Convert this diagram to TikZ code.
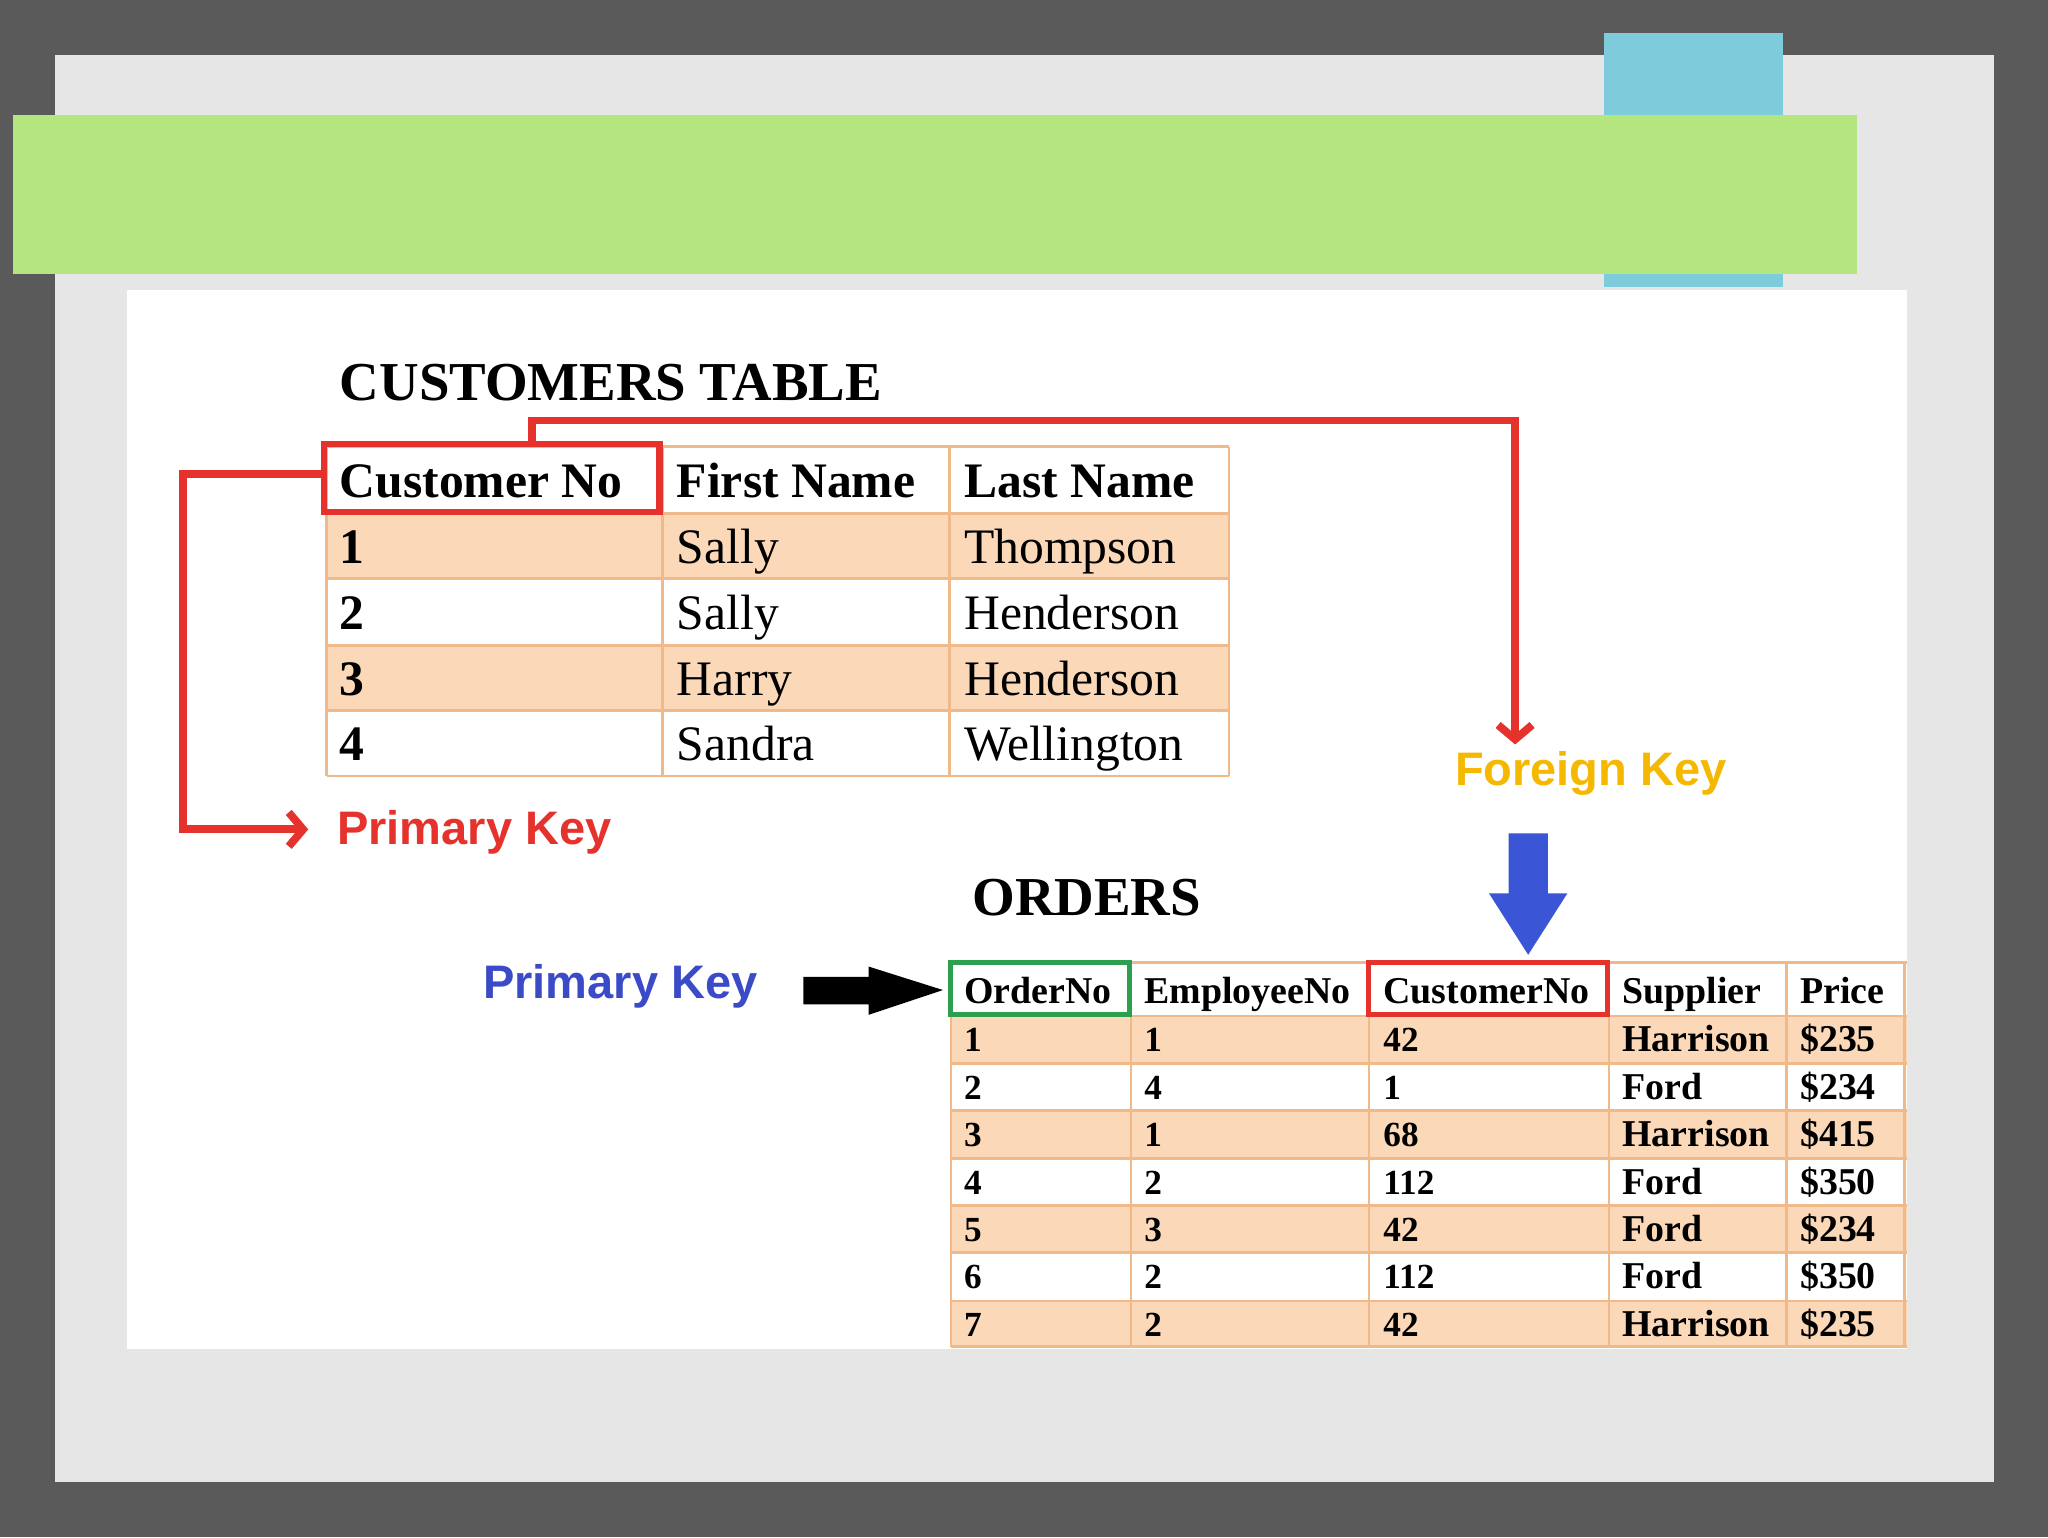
\documentclass[tikz,border=0pt]{standalone}
\usepackage{fontspec}
\setmainfont{Liberation Serif}
\newfontfamily\sansb{Liberation Sans}
\usetikzlibrary{arrows.meta}
\definecolor{bgdark}{HTML}{5A5A5A}
\definecolor{slide}{HTML}{E6E6E6}
\definecolor{tabc}{HTML}{7ECBDC}
\definecolor{greenbar}{HTML}{B5E57F}
\definecolor{cellor}{HTML}{FBD9B8}
\definecolor{gridc}{HTML}{EFB98A}
\definecolor{keyred}{HTML}{E5322D}
\definecolor{keygreen}{HTML}{2E9E4F}
\definecolor{fkyel}{HTML}{F5B800}
\definecolor{pkblue}{HTML}{3B4BC8}
\definecolor{arrblue}{HTML}{3A55D6}
\tikzset{
 ctxt/.style={anchor=base west,font=\fontsize{38}{40}\selectfont,inner sep=0pt},
 cbold/.style={ctxt,font=\bfseries\fontsize{38}{40}\selectfont},
 otxt/.style={anchor=base west,font=\fontsize{27}{29}\selectfont\bfseries,inner sep=0pt},
 keylbl/.style={font=\sansb\bfseries\fontsize{36}{38}\selectfont,inner sep=0pt},
 redline/.style={draw=keyred,line width=6pt},
}
\begin{document}
\begin{tikzpicture}[x=1pt,y=-1pt]
\useasboundingbox (0,0) rectangle (1568,1177);
\fill[bgdark] (0,0) rectangle (1568,1177);
\fill[slide] (42,42) rectangle (1527,1135);
\fill[tabc] (1228,25) rectangle (1365,220);
\fill[greenbar] (10,88) rectangle (1422,210);
\fill[white] (97,222) rectangle (1460,1033);
\node[font=\bfseries\fontsize{42}{44}\selectfont,anchor=base west,inner sep=0pt] (ctitle) at (260,307) {CUSTOMERS TABLE};
% customers table
\fill[cellor] (250,393) rectangle (941,443);
\fill[cellor] (250,494) rectangle (941,544);
\foreach \y in {342,393,443,494,544,594} \draw[gridc,line width=2pt] (250,\y) -- (941,\y);
\foreach \x in {250,507,727,941} \draw[gridc,line width=2pt] (\x,342) -- (\x,594);
\node[cbold] (h1) at (260,381) {Customer No};
\node[cbold] (h2) at (518,381) {First Name};
\node[cbold] (h3) at (738,381) {Last Name};
\foreach \n/\f/\l [count=\i] in {1/Sally/Thompson,2/Sally/Henderson,3/Harry/Henderson,4/Sandra/Wellington}{
 \node[cbold] (cn\i) at (260,381+50.4*\i) {\n};
 \node[ctxt] (cf\i) at (518,381+50.4*\i) {\f};
 \node[ctxt] (cl\i) at (738,381+50.4*\i) {\l};
}
\draw[keyred,line width=5pt] (248,340) rectangle (505,392);
\coordinate (pkL) at (248,363);
\coordinate (pkT) at (407,340);
\coordinate (pkA) at (236,635);
\coordinate (fkA) at (1160,570);
\node[keylbl,text=keyred,anchor=west] (pk1) at (258,637) {Primary Key};
\draw[redline,-{Straight Barb[length=11pt,width=26pt]}] (pkL) -- (140,363) -- (140,635) -- (pkA);
\node[keylbl,text=fkyel] (fk) at (1218,592) {Foreign Key};
\draw[redline,-{Straight Barb[length=11pt,width=26pt]}] (pkT) -- (407,322) -- (1160,322) -- (fkA);
% blue arrow
\fill[arrblue] (1155,638) -- (1185,638) -- (1185,684) -- (1200,684) -- (1170,731) -- (1140,684) -- (1155,684) -- cycle;
\node[font=\bfseries\fontsize{42}{44}\selectfont,inner sep=0pt] (otitle) at (832,687) {ORDERS};
\node[keylbl,text=pkblue] (pk2) at (475,755) {Primary Key};
\fill[black] (615,748) -- (665,748) -- (665,740) -- (722,758) -- (665,777) -- (665,769) -- (615,769) -- cycle;
% orders table
\foreach \ya/\yb in {778/814,850/887,923/959,996/1031} \fill[cellor] (728,\ya) rectangle (1460,\yb);
\foreach \y in {737,778,814,850,887,923,959,996,1031} \draw[gridc,line width=2pt] (728,\y) -- (1460,\y);
\foreach \x in {728,866,1048,1232,1368,1458} \draw[gridc,line width=2pt] (\x,737) -- (\x,1031);
\foreach \t/\x [count=\i] in {OrderNo/738,EmployeeNo/876,CustomerNo/1059,Supplier/1242,Price/1378}
 \node[otxt,font=\fontsize{29}{31}\selectfont\bfseries] (oh\i) at (\x,768) {\t};
\foreach \a/\b/\c/\d/\e [count=\i] in {1/1/42/Harrison/\$235,2/4/1/Ford/\$234,3/1/68/Harrison/\$415,4/2/112/Ford/\$350,5/3/42/Ford/\$234,6/2/112/Ford/\$350,7/2/42/Harrison/\$235}{
 \node[otxt] (oa\i) at (738,769+36.3*\i) {\a};
 \node[otxt] (ob\i) at (876,769+36.3*\i) {\b};
 \node[otxt] (oc\i) at (1059,769+36.3*\i) {\c};
 \node[otxt,font=\fontsize{29}{31}\selectfont\bfseries] (od\i) at (1242,769+36.3*\i) {\d};
 \node[otxt,font=\fontsize{29}{31}\selectfont\bfseries] (oe\i) at (1378,769+36.3*\i) {\e};
}
\draw[keygreen,line width=4pt] (728,737) rectangle (865,777);
\draw[keyred,line width=4pt] (1048,737) rectangle (1231,777);
\end{tikzpicture}
\end{document}
